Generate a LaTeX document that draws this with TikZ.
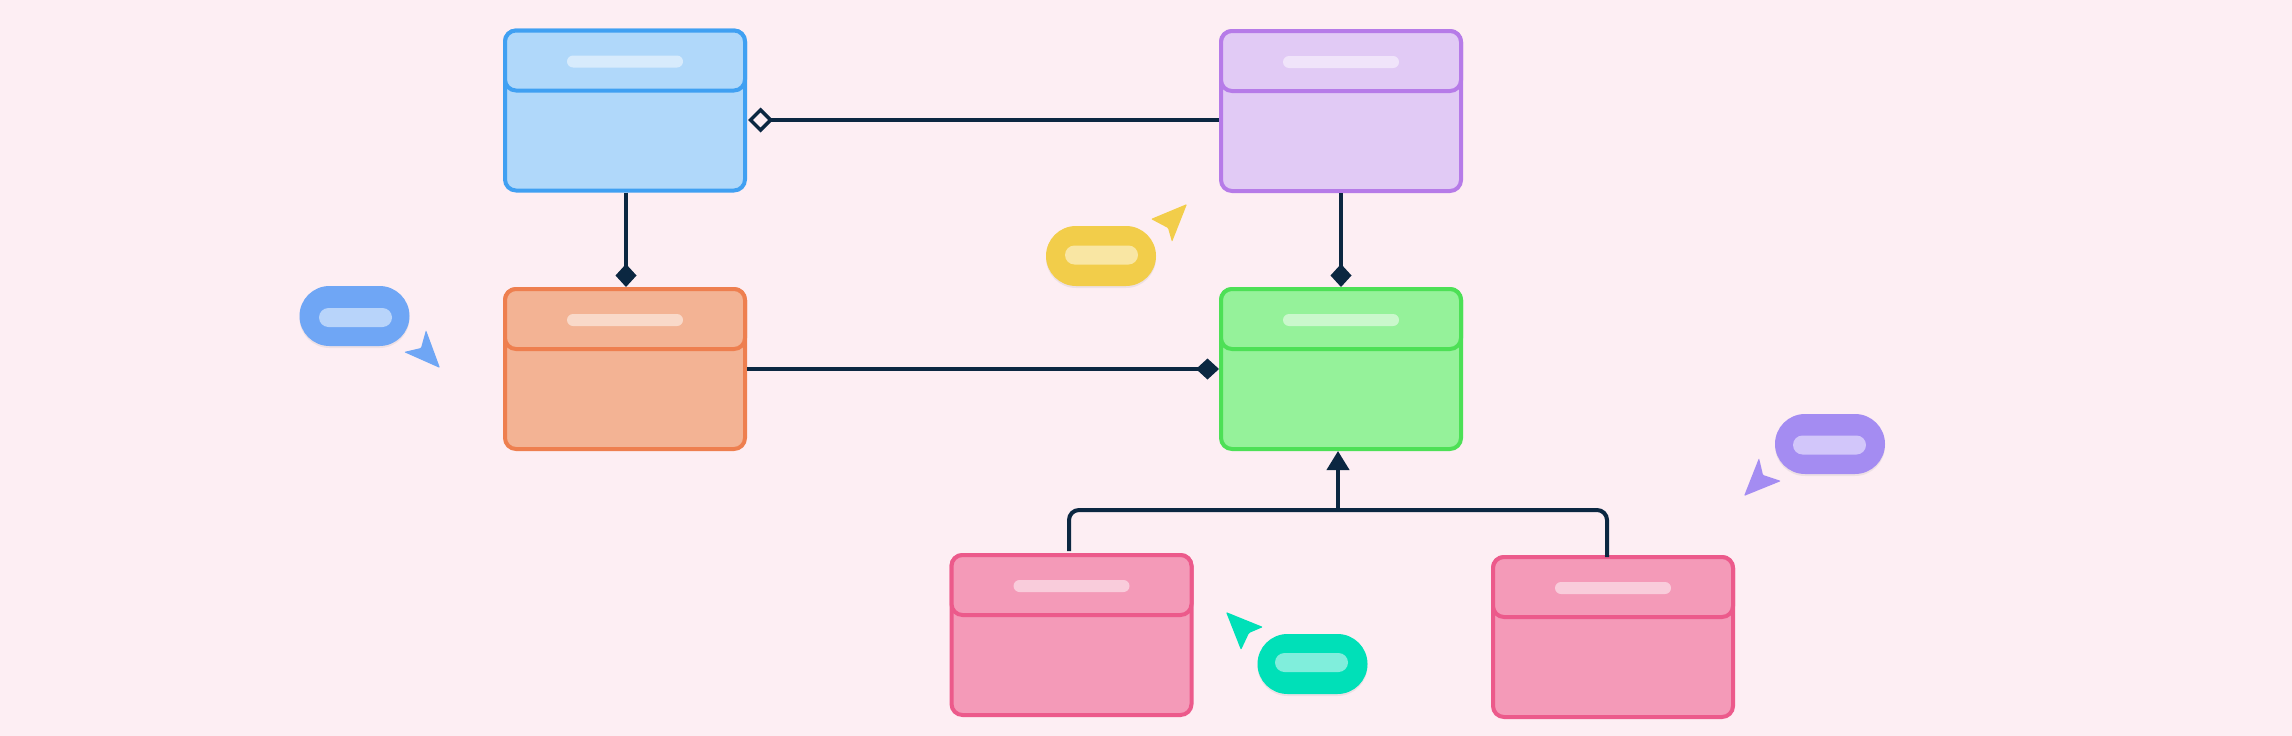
\documentclass[tikz,border=0pt]{standalone}
\usetikzlibrary{arrows.meta,shapes.misc,shadows}
\definecolor{bg}{HTML}{FDEEF3}
\definecolor{bluefill}{HTML}{B0D8FA}\definecolor{bluestroke}{HTML}{40A0F2}
\definecolor{purpfill}{HTML}{E1CAF5}\definecolor{purpstroke}{HTML}{B67BE8}
\definecolor{orfill}{HTML}{F3B394}\definecolor{orstroke}{HTML}{EE7F4F}
\definecolor{grfill}{HTML}{95F29A}\definecolor{grstroke}{HTML}{4DE056}
\definecolor{pkfill}{HTML}{F49AB8}\definecolor{pkstroke}{HTML}{EC5A8B}
\definecolor{linec}{HTML}{0B2741}
\definecolor{ybub}{HTML}{F2CD4A}\definecolor{ybubin}{HTML}{F9E6A3}
\definecolor{bbub}{HTML}{6FA6F5}\definecolor{bbubin}{HTML}{B8D4FA}
\definecolor{tbub}{HTML}{00E0B8}\definecolor{tbubin}{HTML}{80EEDC}
\definecolor{pbub}{HTML}{A48CF2}\definecolor{pbubin}{HTML}{D2C6FA}
\tikzset{
  classbox/.style={rectangle, line width=4pt, rounded corners=11pt,
    minimum width=240pt, minimum height=160pt, inner sep=0pt, outer sep=2pt},
  conn/.style={draw=linec, line width=4pt},
  pill/.style={rounded rectangle, minimum width=110pt, minimum height=60pt, inner sep=0pt,
    drop shadow={opacity=0.12, shadow xshift=0pt, shadow yshift=-2pt}},
  pillbar/.style={rounded rectangle, minimum width=73pt, minimum height=19pt, inner sep=0pt},
  cursor/.style={rounded corners=1pt}
}
\newcommand\clsbox[4]{%
  \node[classbox, fill=#3, draw=#4] (#1) at (#2) {};
  \draw[line width=4pt, draw=#4, fill=#3, rounded corners=11pt]
    ([shift={(2pt,-2pt)}]#1.north west) rectangle ([shift={(-2pt,-62pt)}]#1.north east);
  \fill[white, opacity=.5, rounded corners=6pt]
    ([shift={(-58pt,-27pt)}]#1.north) rectangle ([shift={(58pt,-39pt)}]#1.north);
}
\begin{document}
\begin{tikzpicture}[x=1pt,y=-1pt]
\useasboundingbox[fill=bg] (0,0) rectangle (2292,736);

\clsbox{blue}{625,110.5}{bluefill}{bluestroke}
\clsbox{purp}{1341,111}{purpfill}{purpstroke}
\clsbox{orng}{625,369}{orfill}{orstroke}
\clsbox{gren}{1341,369}{grfill}{grstroke}
\clsbox{pkl}{1071.5,635}{pkfill}{pkstroke}
\clsbox{pkr}{1613,637}{pkfill}{pkstroke}

% connectors
\coordinate (agg) at ([xshift=1pt,yshift=-9.5pt]blue.east);
\draw[conn, {Diamond[open, length=25pt, width=25pt, line width=3.5pt]}-]
  (agg) -- (agg -| purp.west);
\draw[conn, -{Diamond[length=23pt, width=21pt]}] ([xshift=1pt]blue.south) -- ([xshift=1pt]orng.north);
\draw[conn, -{Diamond[length=23pt, width=21pt]}] (purp.south) -- (gren.north);
\draw[conn, -{Diamond[length=23pt, width=21pt]}] (orng.east) -- (gren.west);

\coordinate (jn) at (1338,510);
\draw[conn, rounded corners=10pt] ([xshift=-2.5pt,yshift=2pt]pkl.north) |- (jn) -| ([xshift=-6pt,yshift=-2pt]pkr.north);
\draw[conn, -{Triangle[length=19pt, width=22pt]}] (jn) -- (jn |- gren.south);

% bubbles
\node[pill, fill=bbub] (bb) at (354.5,316) {};
\node[pillbar, fill=bbubin] (bbi) at (355.5,317.5) {};
\fill[bbub, cursor] (440,368) -- (426,330) -- (421,348) -- (404,352) -- cycle;

\node[pill, fill=ybub] (yb) at (1101,256) {};
\node[pillbar, fill=ybubin] (ybi) at (1101.5,255) {};
\fill[ybub, cursor] (1187,204) -- (1151,219) -- (1168,228) -- (1172,242) -- cycle;

\node[pill, fill=tbub] (tb) at (1312.5,664) {};
\node[pillbar, fill=tbubin] (tbi) at (1311.5,662.5) {};
\fill[tbub, cursor] (1226,612) -- (1263,627) -- (1249,633) -- (1241,650) -- cycle;

\node[pill, fill=pbub] (pb) at (1830,444) {};
\node[pillbar, fill=pbubin] (pbi) at (1829.5,445) {};
\fill[pbub, cursor] (1744,496) -- (1759,458) -- (1763,475) -- (1781,481) -- cycle;
\end{tikzpicture}
\end{document}
